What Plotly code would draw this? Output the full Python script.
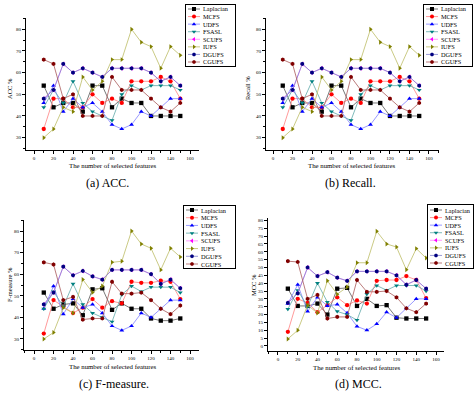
import plotly.graph_objects as go

W, H = 474, 395

n_features = [10, 20, 30, 40, 50, 60, 70, 80, 90, 100, 110, 120, 130, 140, 150]
methods = ["Laplacian", "MCFS", "UDFS", "FSASL", "SCUFS", "IUFS", "DGUFS", "CGUFS"]

acc = {
    "Laplacian": [54, 44, 46, 46, 42, 54, 54, 44, 48, 46, 46, 40, 40, 40, 40],
    "MCFS":      [34, 48, 48, 44, 44, 50, 46, 48, 46, 56, 56, 56, 58, 56, 48],
    "UDFS":      [46, 54, 42, 48, 44, 46, 42, 36, 34, 36, 42, 40, 44, 48, 48],
    "FSASL":     [44, 52, 46, 56, 46, 42, 40, 38, 50, 54, 52, 54, 54, 54, 52],
    "SCUFS":     [48, 52, 64, 60, 62, 60, 58, 62, 62, 62, 62, 60, 56, 58, 54],
    "IUFS":      [30, 34, 44, 42, 58, 52, 56, 66, 66, 80, 74, 72, 62, 72, 68],
    "DGUFS":     [48, 52, 64, 60, 62, 60, 58, 62, 62, 62, 62, 60, 56, 58, 54],
    "CGUFS":     [66, 64, 48, 50, 40, 40, 40, 58, 52, 52, 52, 48, 44, 42, 46],
}
recall = {
    "Laplacian": [54, 44, 46, 46, 42, 54, 54, 44, 48, 46, 46, 40, 40, 40, 40],
    "MCFS":      [34, 48, 48, 44, 44, 50, 46, 48, 46, 56, 56, 56, 58, 56, 48],
    "UDFS":      [46, 54, 42, 48, 44, 46, 42, 36, 34, 36, 42, 40, 44, 48, 48],
    "FSASL":     [44, 52, 46, 56, 46, 42, 40, 38, 50, 54, 52, 54, 54, 54, 52],
    "SCUFS":     [48, 52, 64, 60, 62, 60, 58, 62, 62, 62, 62, 60, 56, 58, 54],
    "IUFS":      [30, 34, 44, 42, 58, 52, 56, 66, 66, 80, 74, 72, 62, 72, 68],
    "DGUFS":     [48, 52, 64, 60, 62, 60, 58, 62, 62, 62, 62, 60, 56, 58, 54],
    "CGUFS":     [66, 64, 48, 50, 40, 40, 40, 58, 52, 52, 52, 48, 44, 42, 46],
}
fmeasure = {
    "Laplacian": [51.5, 44, 46, 46.5, 41, 53, 53.5, 43.5, 46.5, 44, 44, 39.5, 38.5, 38.5, 39.5],
    "MCFS":      [32.5, 48, 45, 42, 44.5, 48.5, 44.5, 47.5, 46.5, 56.5, 56, 56, 57, 56.5, 48.5],
    "UDFS":      [44, 54.5, 41.5, 48.5, 44.5, 46, 42, 36, 34, 36, 42, 40, 44, 48, 48],
    "FSASL":     [44, 52, 45, 55.5, 46, 42, 40, 38, 50.5, 54.5, 52, 54, 54, 54, 51.5],
    "SCUFS":     [46, 51.5, 63.5, 59.5, 61.5, 59, 57.5, 62, 62, 62, 62, 60, 55.5, 57.5, 53.5],
    "IUFS":      [30, 33, 44.5, 42, 57.5, 51.5, 54.5, 65.5, 66, 80, 74, 72, 62, 72, 68],
    "DGUFS":     [46, 51.5, 63.5, 59.5, 61.5, 59, 57.5, 62, 62, 62, 62, 60, 55.5, 57.5, 53.5],
    "CGUFS":     [65.5, 64.5, 48, 49.5, 39, 39.5, 39.5, 56.5, 51, 51, 51.5, 48, 44, 41.5, 45.5],
}
mcc = {
    "Laplacian": [36.5, 25.5, 25.5, 27, 20, 36.5, 37, 25.5, 30, 25.5, 26, 18, 17.5, 17.5, 17.5],
    "MCFS":      [9, 30, 27.5, 21.5, 26, 31, 26, 29, 27, 41.5, 42, 42, 44.5, 42, 30.5],
    "UDFS":      [27, 39, 22, 31, 25.5, 26.5, 21, 12.5, 10, 14, 21.5, 18, 24, 30, 30],
    "FSASL":     [23.5, 35.5, 25, 40, 28, 22, 20, 16.5, 33, 38.5, 35.5, 38.5, 38.5, 38.5, 35],
    "SCUFS":     [27.5, 33.5, 50, 44.5, 47, 43.5, 41.5, 47.5, 47.5, 47.5, 47.5, 45, 39, 42, 36.5],
    "IUFS":      [4.5, 10, 26, 21, 41.5, 33, 37.5, 53, 53, 73, 65, 63, 48.5, 62, 56],
    "DGUFS":     [27.5, 33.5, 50, 44.5, 47, 43.5, 41.5, 47.5, 47.5, 47.5, 47.5, 45, 39, 42, 36.5],
    "CGUFS":     [54, 53.5, 30, 32.5, 17.5, 18.5, 18.5, 42, 34.5, 34.5, 35, 31, 24, 21.5, 27],
}

colors = {
    "Laplacian": "#000000", "MCFS": "#ff0000", "UDFS": "#0000ff", "FSASL": "#008080",
    "SCUFS": "#ff00ff", "IUFS": "#808000", "DGUFS": "#000080", "CGUFS": "#800000",
}
line_colors = {
    "Laplacian": "#555555", "MCFS": "#ff8080", "UDFS": "#8080ff", "FSASL": "#60aaaa",
    "SCUFS": "#ff80ff", "IUFS": "#bcbc66", "DGUFS": "#8080cc", "CGUFS": "#aa5a5a",
}
symbols = {
    "Laplacian": "square", "MCFS": "circle", "UDFS": "triangle-up", "FSASL": "triangle-down",
    "SCUFS": "triangle-left", "IUFS": "triangle-right", "DGUFS": "hexagon", "CGUFS": "hexagon",
}

FONT = "Liberation Serif, Times New Roman, DejaVu Serif, serif"

panels = [
    dict(data=acc, ytitle="ACC %", caption="(a) ACC.",
         box=(26, 199, 18, 150), xr=[-8.2, 169.2], yr=[24.3, 85.2], ydt=10, ymin=5,
         leg=(186, 235, 4.5, 65.5), legrows=(9, 62),
         ytpos=(10, 89), xtpos=(113, 165), cappos=(107, 183)),
    dict(data=recall, ytitle="Recall %", caption="(b) Recall.",
         box=(266, 439, 18, 150), xr=[-7.2, 170.3], yr=[24.3, 85.2], ydt=10, ymin=5,
         leg=(424, 472, 4.5, 65.5), legrows=(9, 62),
         ytpos=(248, 88), xtpos=(352, 165), cappos=(350, 183)),
    dict(data=fmeasure, ytitle="F-measure %", caption="(c) F-measure.",
         box=(24, 199, 220, 350), xr=[-10.3, 169.2], yr=[24.9, 85.1], ydt=10, ymin=5,
         leg=(184, 235, 206, 268), legrows=(210, 264),
         ytpos=(9, 285), xtpos=(113, 366), cappos=(114, 384)),
    dict(data=mcc, ytitle="MCC %", caption="(d) MCC.",
         box=(268, 444, 218, 351), xr=[-10.1, 168.1], yr=[-3.2, 81.5], ydt=5, ymin=None,
         leg=(428, 473, 205, 268), legrows=(210, 263),
         ytpos=(253, 285), xtpos=(357, 367), cappos=(358, 384)),
]

def fx(px):
    return px / W

def fy(py):
    return 1 - py / H

fig = go.Figure()
layout = dict(
    width=W, height=H, margin=dict(l=0, r=0, t=0, b=0),
    paper_bgcolor="white", plot_bgcolor="white", showlegend=False,
    font=dict(family=FONT, color="black"),
)
annotations = []

for i, p in enumerate(panels, start=1):
    x0, x1, y0, y1 = p["box"]
    ax = dict(
        domain=[fx(x0), fx(x1)], range=p["xr"], anchor=f"y{i}",
        showline=True, linecolor="black", linewidth=0.9, showgrid=False, zeroline=False,
        ticks="outside", ticklen=3, tickwidth=0.7, tickcolor="black",
        tick0=0, dtick=20, tickfont=dict(family=FONT, size=5, color="black"),
        minor=dict(ticks="outside", ticklen=1.8, tickwidth=0.6, dtick=10, tick0=0, tickcolor="black"),
    )
    ay = dict(
        domain=[fy(y1), fy(y0)], range=p["yr"], anchor=f"x{i}",
        showline=True, linecolor="black", linewidth=0.9, showgrid=False, zeroline=False,
        ticks="outside", ticklen=3, tickwidth=0.7, tickcolor="black",
        tick0=0, dtick=p["ydt"], tickfont=dict(family=FONT, size=5, color="black"),
    )
    if p["ymin"]:
        ay["minor"] = dict(ticks="outside", ticklen=1.8, tickwidth=0.6, dtick=p["ymin"], tick0=0, tickcolor="black")
    layout[f"xaxis{i}"] = ax
    layout[f"yaxis{i}"] = ay

    for m in methods:
        fig.add_trace(go.Scatter(
            x=n_features, y=p["data"][m], mode="lines+markers",
            line=dict(color=line_colors[m], width=0.8),
            marker=dict(symbol=symbols[m], size=4.3, color=colors[m], line=dict(width=0)),
            xaxis=f"x{i}", yaxis=f"y{i}", cliponaxis=False, name=m,
        ))

    # legend box as its own small axes
    lx0, lx1, ly0, ly1 = p["leg"]
    r0, r1 = p["legrows"]
    step = (r1 - r0) / 7
    top = -(r0 - ly0) / step
    bot = 7 + (ly1 - r1) / step
    li = i + 4
    lw = lx1 - lx0
    layout[f"xaxis{li}"] = dict(
        domain=[fx(lx0), fx(lx1)], range=[0, lw], anchor=f"y{li}",
        showline=True, mirror=True, linecolor="black", linewidth=0.7,
        showgrid=False, zeroline=False, showticklabels=False, ticks="", fixedrange=True,
    )
    layout[f"yaxis{li}"] = dict(
        domain=[fy(ly1), fy(ly0)], range=[bot, top], anchor=f"x{li}",
        showline=True, mirror=True, linecolor="black", linewidth=0.7,
        showgrid=False, zeroline=False, showticklabels=False, ticks="", fixedrange=True,
    )
    for j, m in enumerate(methods):
        fig.add_trace(go.Scatter(
            x=[2, 14], y=[j, j], mode="lines", line=dict(color=line_colors[m], width=0.8),
            xaxis=f"x{li}", yaxis=f"y{li}", hoverinfo="skip",
        ))
        fig.add_trace(go.Scatter(
            x=[8], y=[j], mode="markers",
            marker=dict(symbol=symbols[m], size=4, color=colors[m], line=dict(width=0)),
            xaxis=f"x{li}", yaxis=f"y{li}", hoverinfo="skip",
        ))
        annotations.append(dict(
            x=15, y=j, xref=f"x{li}", yref=f"y{li}", text=m, showarrow=False,
            xanchor="left", yanchor="middle", font=dict(family=FONT, size=6.3, color="black"),
        ))

    annotations.append(dict(
        x=fx(p["ytpos"][0]), y=fy(p["ytpos"][1]), xref="paper", yref="paper",
        text=p["ytitle"], showarrow=False, textangle=-90,
        xanchor="center", yanchor="middle", font=dict(family=FONT, size=6.5, color="black"),
    ))
    annotations.append(dict(
        x=fx(p["xtpos"][0]), y=fy(p["xtpos"][1]), xref="paper", yref="paper",
        text="The number of selected features", showarrow=False,
        xanchor="center", yanchor="middle", font=dict(family=FONT, size=6.8, color="black"),
    ))
    annotations.append(dict(
        x=fx(p["cappos"][0]), y=fy(p["cappos"][1]), xref="paper", yref="paper",
        text=p["caption"], showarrow=False,
        xanchor="center", yanchor="middle", font=dict(family=FONT, size=12, color="black"),
    ))

layout["annotations"] = annotations
fig.update_layout(**layout)
fig.write_html("out.html", config={"displayModeBar": False},
               post_script="document.body.style.margin='0px';")
